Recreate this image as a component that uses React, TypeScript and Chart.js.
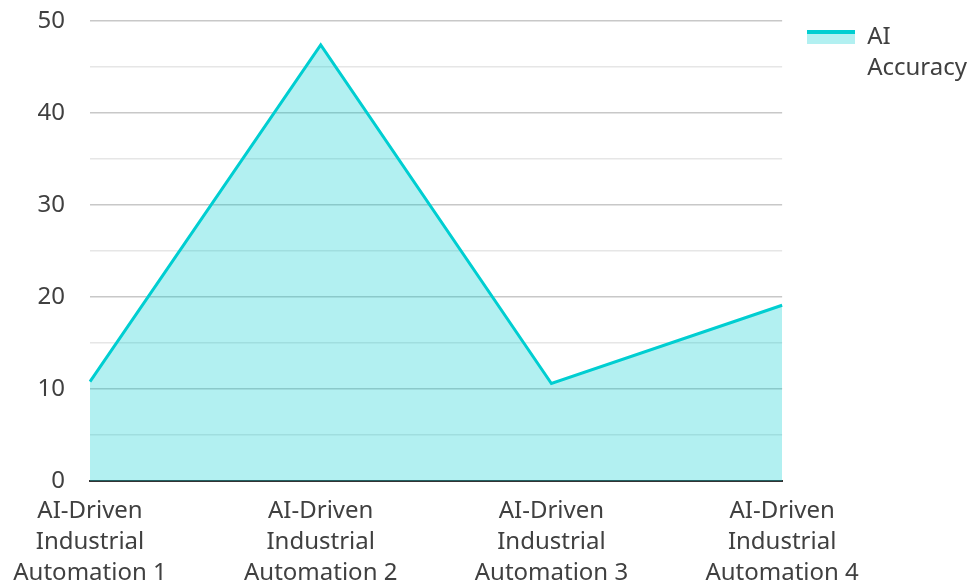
import React, { useEffect, useRef } from "react";
import { Chart, registerables } from "chart.js";

Chart.register(...registerables);

const categories: string[][] = [
  ["AI-Driven", "Industrial", "Automation 1"],
  ["AI-Driven", "Industrial", "Automation 2"],
  ["AI-Driven", "Industrial", "Automation 3"],
  ["AI-Driven", "Industrial", "Automation 4"],
];
const accuracy: number[] = [10.8, 47.4, 10.6, 19.1];
const seriesLabel = "AI Accuracy";
const legendLines: string[] = ["AI", "Accuracy"];

const LINE = "#00CED1";
const FILL = "rgba(0,206,209,0.3)";
const TEXT = "#404040";
const FONT = "'Noto Sans', sans-serif";

export default function App() {
  const ref = useRef<HTMLCanvasElement | null>(null);

  useEffect(() => {
    document.body.style.margin = "0";
    const canvas = ref.current;
    if (!canvas) return;

    const img = document.createElement("canvas");
    img.width = 48;
    img.height = 14;
    const ictx = img.getContext("2d")!;
    ictx.fillStyle = FILL;
    ictx.fillRect(0, 3, 48, 11);
    ictx.fillStyle = LINE;
    ictx.fillRect(0, 0, 48, 4);

    const chart = new Chart(canvas, {
      type: "line",
      data: {
        labels: categories,
        datasets: [
          {
            label: seriesLabel,
            data: accuracy,
            borderColor: LINE,
            backgroundColor: FILL,
            borderWidth: 3,
            fill: "origin",
            tension: 0,
            pointRadius: 0,
            pointHoverRadius: 0,
          },
        ],
      },
      options: {
        responsive: false,
        animation: false,
        layout: { padding: { top: 0, right: -9, left: 0, bottom: 0 } },
        font: { family: FONT },
        plugins: {
          tooltip: { enabled: false },
          legend: {
            position: "right",
            align: "start",
            labels: {
              usePointStyle: true,
              pointStyleWidth: 48,
              boxHeight: 14,
              padding: 25,
              color: TEXT,
              font: { family: FONT, size: 24, lineHeight: 1.3 },
              generateLabels: (ch: any) =>
                Chart.defaults.plugins.legend.labels
                  .generateLabels(ch)
                  .map((l: any) => ({ ...l, text: legendLines, pointStyle: img })),
            },
          },
        },
        scales: {
          x: {
            offset: false,
            grid: { display: false },
            border: { display: true, color: "#333333", width: 2 },
            afterFit: (s: any) => {
              s.height = 104;
            },
            ticks: {
              color: TEXT,
              padding: 7,
              maxRotation: 0,
              autoSkip: false,
              font: { family: FONT, size: 24, lineHeight: 1.29 },
            },
          },
          y: {
            min: 0,
            max: 50,
            afterFit: (s: any) => {
              s.width = 90;
              s.paddingTop = 21;
            },
            border: { display: false },
            grid: {
              drawTicks: false,
              lineWidth: 1.5,
              color: (ctx: any) =>
                ctx.tick && ctx.tick.value % 10 === 0 ? "#c8c8c8" : "#e6e6e6",
            },
            ticks: {
              stepSize: 5,
              padding: 25,
              color: TEXT,
              font: { family: FONT, size: 24 },
              callback: (v: any) => (Number(v) % 10 === 0 ? String(v) : ""),
            },
          },
        },
      },
    });
    return () => chart.destroy();
  }, []);

  return (
    <div style={{ width: 968, height: 585 }}>
      <canvas ref={ref} width={968} height={585} style={{ display: "block" }} />
    </div>
  );
}
